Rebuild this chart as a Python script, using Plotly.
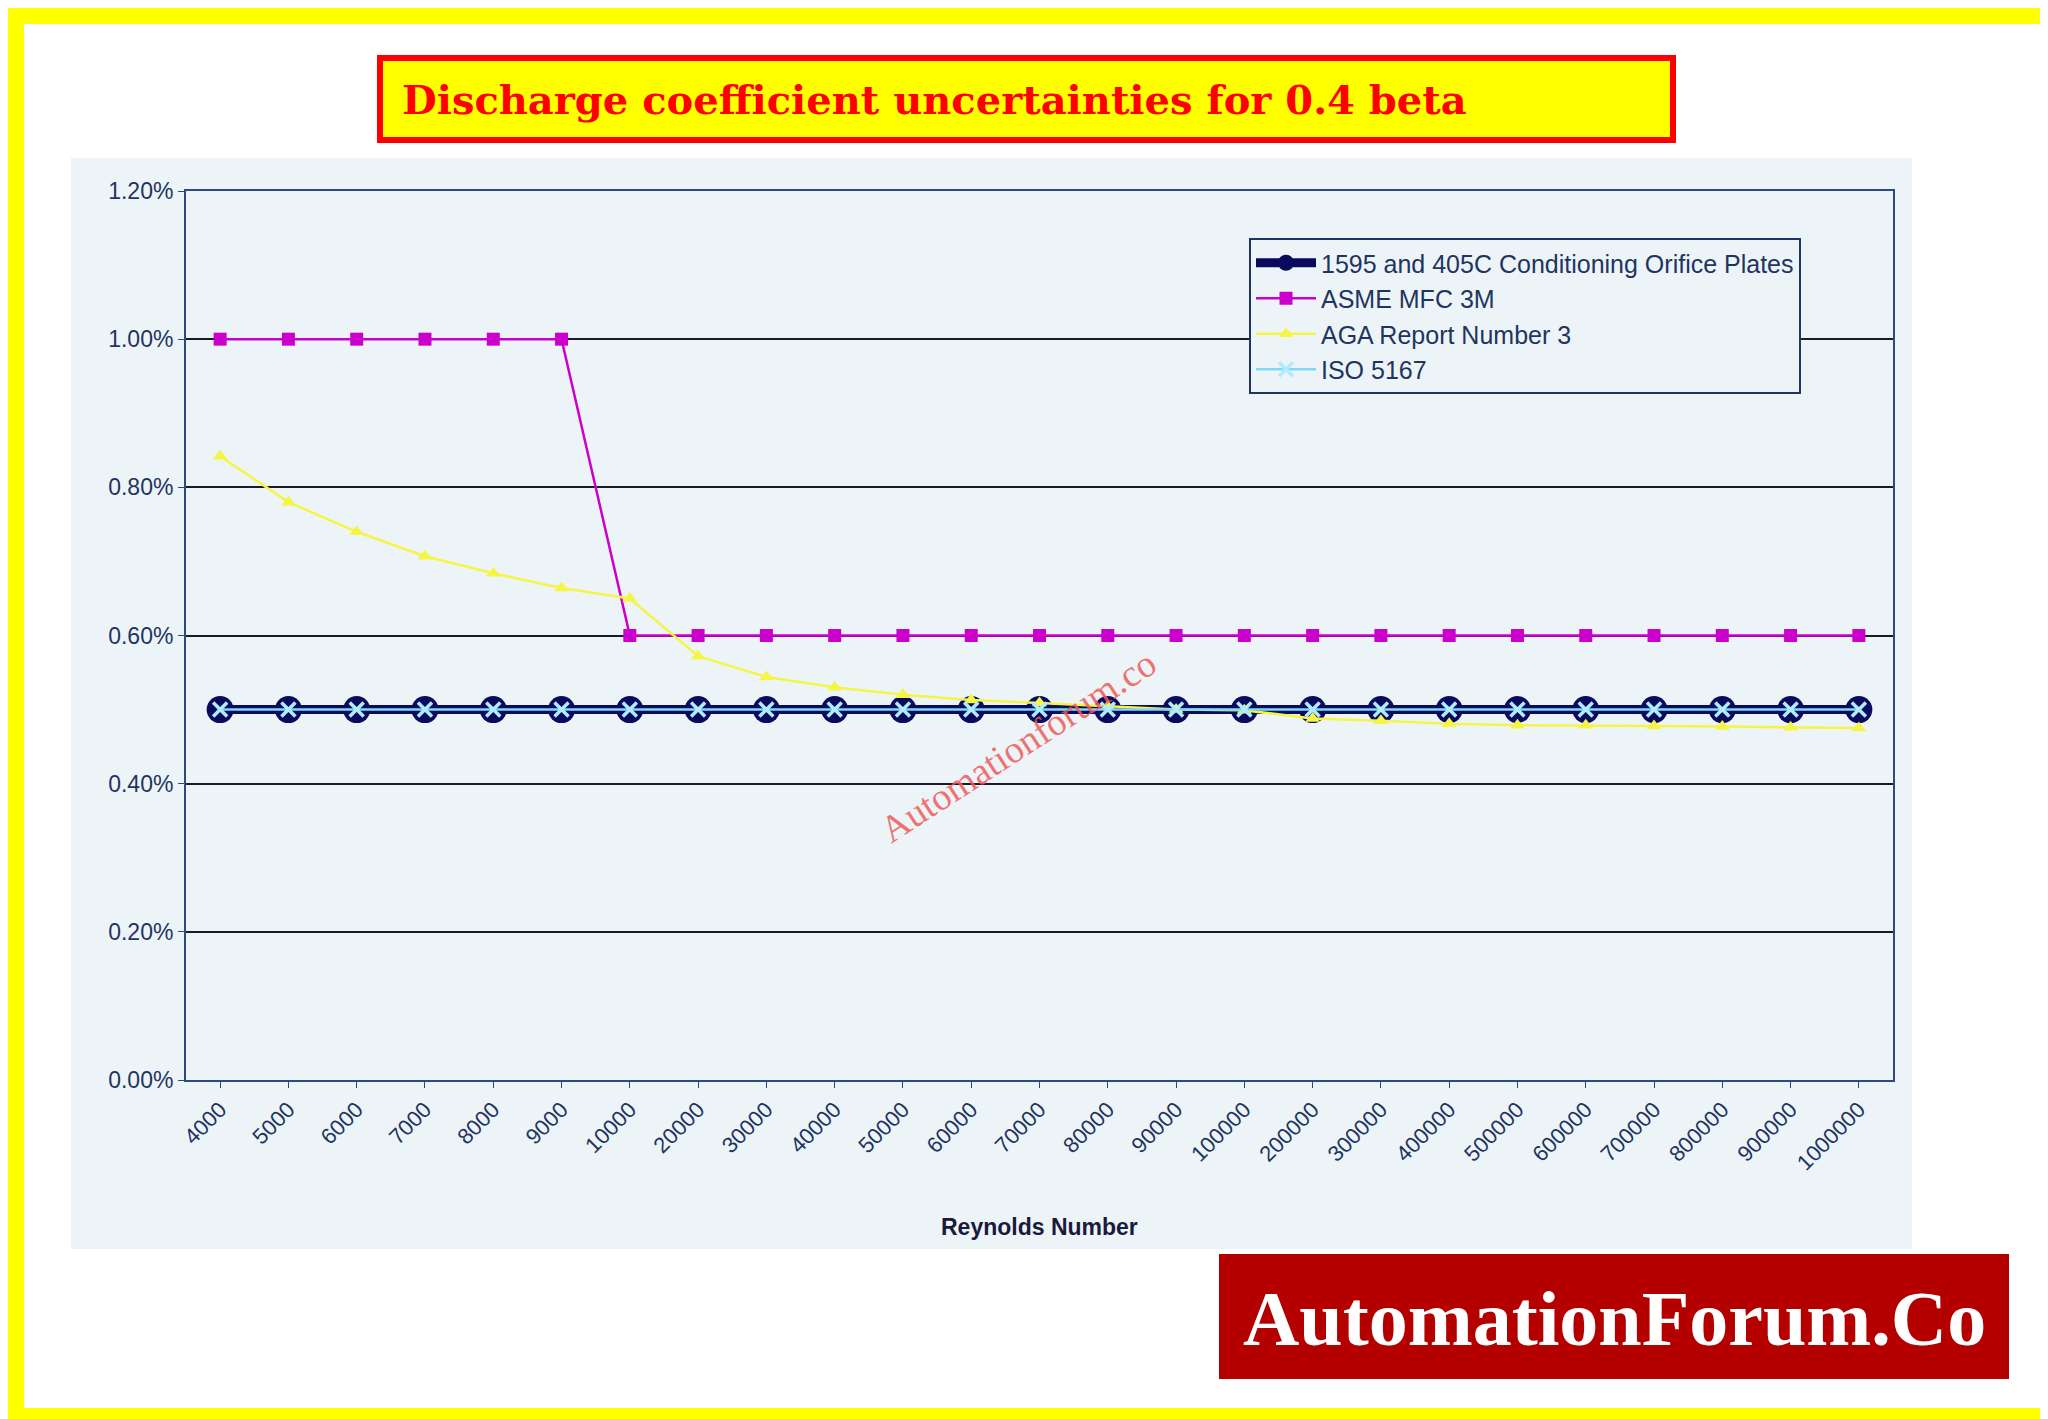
import plotly.graph_objects as go

categories = ["4000","5000","6000","7000","8000","9000","10000","20000","30000","40000","50000",
              "60000","70000","80000","90000","100000","200000","300000","400000","500000",
              "600000","700000","800000","900000","1000000"]
conditioning = [0.005]*25
asme = [0.010]*6 + [0.006]*19
aga = [0.00842,0.0078,0.0074,0.00707,0.00684,0.00664,0.0065,0.00572,0.00544,0.0053,0.0052,
       0.00513,0.00509,0.00504,0.0050,0.00499,0.00488,0.00485,0.00481,0.00479,0.00479,
       0.00478,0.00477,0.00476,0.00475]
iso = [0.005]*25

W, H = 2048, 1419
L, R, T, B = 178, 1885, 183, 1072
def px(x): return (x - L) / (R - L)
def py(y): return (B - y) / (B - T)

fig = go.Figure()
fig.add_trace(go.Scatter(x=categories, y=conditioning, name="1595 and 405C Conditioning Orifice Plates",
    mode="lines+markers", line=dict(color="#0B0B5E", width=9),
    marker=dict(symbol="circle", size=27, color="#0B0B5E")))
fig.add_trace(go.Scatter(x=categories, y=asme, name="ASME MFC 3M", mode="lines+markers",
    line=dict(color="#CC00CC", width=2.5), marker=dict(symbol="square", size=13, color="#CC00CC")))
fig.add_trace(go.Scatter(x=categories, y=aga, name="AGA Report Number 3", mode="lines+markers",
    line=dict(color="#F5F545", width=2.5), marker=dict(symbol="triangle-up", size=13, color="#F5F545")))
fig.add_trace(go.Scatter(x=categories, y=iso, name="ISO 5167", mode="lines+markers",
    line=dict(color="#80D8F5", width=2.5),
    marker=dict(symbol="x-thin", size=14, line=dict(color="#B0ECFF", width=3.5))))

shapes = [
    dict(type="rect", xref="paper", yref="paper", x0=px(16), x1=px(2032), y0=py(1400), y1=py(16),
         fillcolor="white", line=dict(width=0), layer="below"),
    dict(type="rect", xref="paper", yref="paper", x0=px(63), x1=px(1904), y0=py(1241), y1=py(150),
         fillcolor="#EDF4F8", line=dict(width=0), layer="below"),
    dict(type="rect", xref="paper", yref="paper", x0=px(372), x1=px(1665), y0=py(132), y1=py(50),
         fillcolor="#FFFF00", line=dict(color="#FF0000", width=6)),
    dict(type="rect", xref="paper", yref="paper", x0=px(1211), x1=px(2001), y0=py(1371), y1=py(1246),
         fillcolor="#B50000", line=dict(width=0)),
]
annotations = [
    dict(xref="paper", yref="paper", x=px(392), y=py(91), xanchor="left", yanchor="middle",
         text="<b>Discharge coefficient uncertainties for 0.4 beta</b>", showarrow=False,
         font=dict(family="DejaVu Serif", size=40, color="#FF0000")),
    dict(xref="paper", yref="paper", x=px(1606), y=py(1310), xanchor="center", yanchor="middle",
         text="<b>AutomationForum.Co</b>", showarrow=False,
         font=dict(family="Liberation Serif", size=78, color="white")),
    dict(xref="paper", yref="paper", x=px(1010), y=py(738), xanchor="center", yanchor="middle",
         text="Automationforum.co", showarrow=False, textangle=-33,
         font=dict(family="Liberation Serif", size=38, color="rgba(240,90,90,0.85)")),
    dict(xref="paper", yref="paper", x=0.5, y=py(1219), xanchor="center", yanchor="middle",
         text="<b>Reynolds Number</b>", showarrow=False,
         font=dict(family="Liberation Sans", size=23, color="#1A1A3A")),
]

fig.update_layout(
    width=W, height=H, margin=dict(l=L, r=W-R, t=T, b=H-B),
    paper_bgcolor="#FFFF00", plot_bgcolor="rgba(0,0,0,0)",
    shapes=shapes, annotations=annotations,
    font=dict(family="Liberation Sans", color="#1F3560"),
    legend=dict(x=px(1241), y=py(230), xanchor="left", yanchor="top",
                bgcolor="#EDF4F8", bordercolor="#1F3560", borderwidth=2,
                font=dict(size=25, color="#1F3560"), tracegroupgap=0, itemwidth=60),
    xaxis=dict(type="category", range=[-0.5, 24.5], tickangle=-45, tickfont=dict(size=22),
               showgrid=False, showline=True, linecolor="#2A4A80", linewidth=2, mirror=True,
               ticks="outside", ticklen=6, tickcolor="#2A4A80"),
    yaxis=dict(range=[0, 0.012], dtick=0.002, tickformat=".2%", tickfont=dict(size=23),
               showgrid=True, gridcolor="#1A1A2A", gridwidth=1.5, zeroline=False,
               showline=True, linecolor="#2A4A80", linewidth=2, mirror=True,
               ticks="outside", ticklen=6, tickcolor="#2A4A80"),
    showlegend=True,
)
fig.write_html("out.html")
